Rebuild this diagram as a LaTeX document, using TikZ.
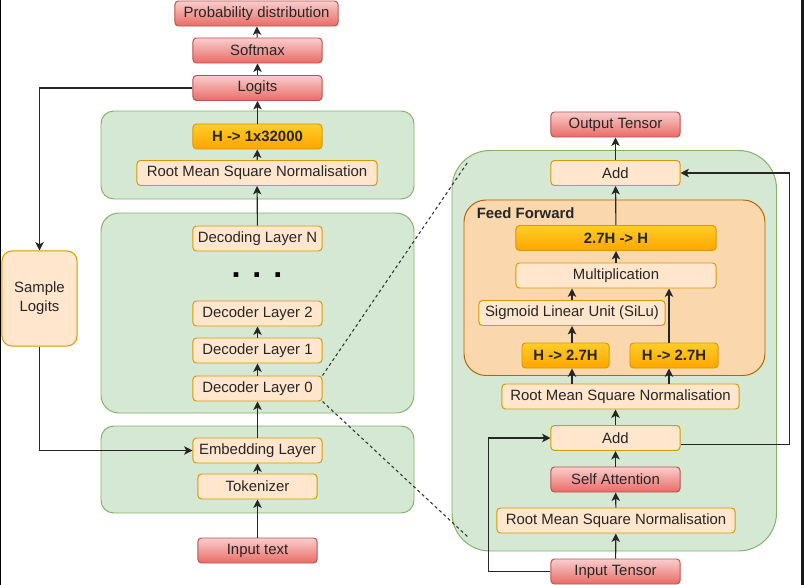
\documentclass[tikz,border=0pt]{standalone}
\usepackage{fontspec}
\setmainfont{Liberation Sans}
\usetikzlibrary{arrows.meta}
\definecolor{colGreenFill}{HTML}{D5E8D4}
\definecolor{colGreenLine}{HTML}{82B366}
\definecolor{colCream}{HTML}{FFE6CC}
\definecolor{colAmberLine}{HTML}{D79B00}
\definecolor{colRedTop}{HTML}{F8CECC}
\definecolor{colRedBot}{HTML}{EA6B66}
\definecolor{colRedLine}{HTML}{B85450}
\definecolor{colAmbTop}{HTML}{FFCD28}
\definecolor{colAmbBot}{HTML}{FFA500}
\definecolor{colFFFill}{HTML}{FAD7AC}
\definecolor{colFFLine}{HTML}{B46504}
\def\boxfont{\fontsize{10.6pt}{12.7pt}\selectfont}
\def\twofont{\fontsize{10.6pt}{13.5pt}\selectfont}
\def\dotfont{\fontsize{23pt}{25pt}\selectfont\bfseries}
\tikzset{
  base/.style={rectangle, rounded corners=2.5pt, line width=0.7pt, inner sep=0pt,
    font=\boxfont, text=black!85, minimum height=0.625cm},
  redbox/.style={base, draw=colRedLine, top color=colRedTop, bottom color=colRedBot},
  creambox/.style={base, draw=colAmberLine, fill=colCream},
  ambbox/.style={base, draw=colAmberLine, top color=colAmbTop, bottom color=colAmbBot,
    font=\boxfont\bfseries},
  grpbox/.style={draw=colGreenLine, fill=colGreenFill, line width=0.7pt},
  arr/.style={draw=black!85, line width=0.8pt,
    -{Stealth[length=6pt,width=6pt,inset=1.6pt]}},
  zoomline/.style={draw=black!80, line width=0.75pt, dash pattern=on 2.2pt off 2pt},
}

\begin{document}
\begin{tikzpicture}[x=0.025cm, y=-0.025cm]
\useasboundingbox (0,0) rectangle (804,585);
\fill[white] (0,0) rectangle (804,585);
\fill[black] (0,0) rectangle (1.5,585);
\fill[black!90] (800.7,0) rectangle (804,585);

% ===================== LEFT: model stack =====================
\draw[grpbox, rounded corners=0.32cm] (101,111) rectangle (414,199);
\draw[grpbox, rounded corners=0.45cm] (101,213) rectangle (414,413);
\draw[grpbox, rounded corners=0.32cm] (101,426) rectangle (414,513);

\node[redbox, minimum width=4.075cm] (prob) at (256.5,13.5) {Probability distribution};
\node[redbox, minimum width=3.225cm] (softmax) at (257.5,50.5) {Softmax};
\node[redbox, minimum width=3.225cm] (logits) at (257.5,88) {Logits};
\node[ambbox, minimum width=3.225cm] (proj) at (257.5,136.5) {H -> 1x32000};
\node[creambox, minimum width=6.0cm] (rmsTop) at (257,173) {Root Mean Square Normalisation};

\node[creambox, minimum width=3.225cm] (decN) at (257.5,238.5) {Decoding Layer N};
\node[font=\dotfont, inner sep=0pt] (dots) at (257,275) {. . .};
\node[creambox, minimum width=3.225cm] (dec2) at (257.5,313.5) {Decoder Layer 2};
\node[creambox, minimum width=3.225cm] (dec1) at (257.5,350.5) {Decoder Layer 1};
\node[creambox, minimum width=3.225cm] (dec0) at (257.5,388.5) {Decoder Layer 0};

\node[creambox, minimum width=3.225cm] (embed) at (257.5,450.5) {Embedding Layer};
\node[creambox, minimum width=2.975cm] (token) at (257.5,486.5) {Tokenizer};
\node[redbox, minimum width=2.975cm] (intext) at (257.5,550.5) {Input text};

\node[creambox, rounded corners=7pt, minimum width=1.875cm, minimum height=2.375cm,
      align=center, font=\twofont] (sample) at (39.5,298.5) {Sample\\Logits};

\draw[arr] (intext) -- (token);
\draw[arr] (token) -- (embed);
\draw[arr] (embed) -- (dec0);
\draw[arr] (dec0) -- (dec1);
\draw[arr] (dec1) -- (dec2);
\draw[arr] (decN) -- (rmsTop);
\draw[arr] (rmsTop) -- (proj);
\draw[arr] (proj) -- (logits);
\draw[arr] (logits) -- (softmax);
\draw[arr] (softmax) -- (prob);
\draw[arr] (logits.west) -| (sample.north);
\draw[arr] (sample.south) |- (embed.west);

% ===================== RIGHT: decoder layer detail =====================
\draw[grpbox, rounded corners=0.95cm] (452,150.5) rectangle (776.5,551);
\draw[draw=colFFLine, fill=colFFFill, line width=0.7pt, rounded corners=0.55cm]
  (464,200) rectangle (765,375.5);
\node[anchor=west, font=\boxfont\bfseries, text=black!85, inner sep=0pt] (ffLabel)
  at (476.5,213) {Feed Forward};

\node[redbox, minimum width=3.225cm] (outT) at (615.5,124.5) {Output Tensor};
\node[creambox, minimum width=3.225cm] (addTop) at (615.5,173) {Add};
\node[ambbox, minimum width=5.0cm] (down) at (616,238) {2.7H -> H};
\node[creambox, minimum width=5.0cm] (mult) at (616,275.5) {Multiplication};
\node[creambox, minimum width=4.65cm] (silu) at (572,313) {Sigmoid Linear Unit (SiLu)};
\node[ambbox, minimum width=2.175cm] (upL) at (565.5,355.5) {H -> 2.7H};
\node[ambbox, minimum width=2.2cm] (upR) at (674,355.5) {H -> 2.7H};
\node[creambox, minimum width=5.925cm] (rmsFF) at (620.5,396.5) {Root Mean Square Normalisation};
\node[creambox, minimum width=3.225cm] (addBot) at (615.5,438) {Add};
\node[redbox, minimum width=3.225cm] (selfAtt) at (615.5,479.5) {Self Attention};
\node[creambox, minimum width=5.95cm] (rmsAtt) at (616,520.5) {Root Mean Square Normalisation};
\node[redbox, minimum width=3.225cm] (inT) at (615.5,571.5) {Input Tensor};

\coordinate (gateCol) at (669,0);
\coordinate (zoomTop) at (467.5,162.5);
\coordinate (zoomBot) at (469,538);

\draw[arr] (inT) -- (rmsAtt);
\draw[arr] (rmsAtt) -- (selfAtt);
\draw[arr] (selfAtt) -- (addBot);
\draw[arr] (addBot) -- (addBot |- rmsFF.south);
\draw[arr] (rmsFF.north -| silu) -- (upL.south -| silu);
\draw[arr] (rmsFF.north -| gateCol) -- (upR.south -| gateCol);
\draw[arr] (upL.north -| silu) -- (silu);
\draw[arr] (silu) -- (mult.south -| silu);
\draw[arr] (upR.north -| gateCol) -- (mult.south -| gateCol);
\draw[arr] (mult) -- (down);
\draw[arr] (down) -- (addTop);
\draw[arr] (addTop) -- (outT);
\draw[arr] (inT.west) -- ++(-62,0) |- (addBot.west);
\draw[arr] ([yshift=-0.16cm]addBot.east) -- ++(109,0) |- (addTop.east);

% zoom lines
\draw[zoomline] (dec0.north east) -- (zoomTop);
\draw[zoomline] (dec0.south east) -- (zoomBot);
\end{tikzpicture}
\end{document}
